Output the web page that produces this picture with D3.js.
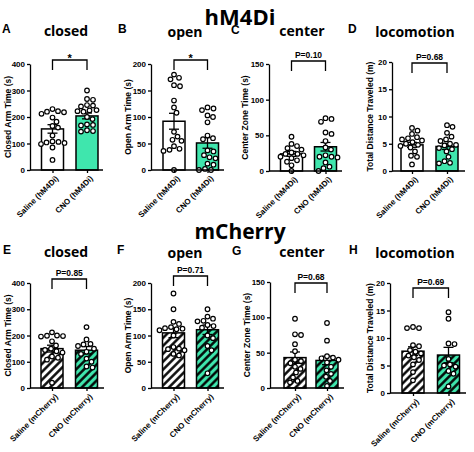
<!DOCTYPE html>
<html lang="en">
<head>
<meta charset="UTF-8">
<title>hM4Di / mCherry</title>
<script src="https://d3js.org/d3.v7.min.js"></script>
<style>
  body { margin: 0; background: #fff; }
  svg { display: block; font-family: "Liberation Sans", Arial, sans-serif; font-weight: bold; }
  .title { font-family: "Open Sans", sans-serif; font-weight: 700; }
  .axis path, .axis line { stroke: #000; stroke-width: 1.3; }
  .axis text { font-size: 8px; font-weight: bold; fill: #000; }
</style>
</head>
<body>
<svg width="474" height="452"></svg>
<script>
const groupsHM4Di = ["Saline (hM4Di)", "CNO (hM4Di)"];
const groupsMCherry = ["Saline (mCherry)", "CNO (mCherry)"];
const rowTitles = ["hM4Di", "mCherry"];
const measures = ["closed", "open", "center", "locomotion"];
const yLabels = ["Closed Arm Time (s)", "Open Arm Time (s)", "Center Zone Time (s)", "Total Distance Traveled (m)"];
const yTicks = [[0, 100, 200, 300, 400], [0, 50, 100, 150, 200], [0, 50, 100, 150], [0, 5, 10, 15, 20]];
const panelLetters = ["A", "B", "C", "D", "E", "F", "G", "H"];
const statsHM4Di = ["*", "*", "P=0.10", "P=0.68"];
const statsMCherry = ["P=0.85", "P=0.71", "P=0.68", "P=0.69"];

// individual animals, hM4Di
const closedSalineHM4Di = [230, 222, 220, 218, 212, 198, 182, 166, 160, 130, 108, 106, 104, 102, 98, 85, 38];
const closedCnoHM4Di = [300, 268, 265, 245, 243, 240, 226, 225, 222, 220, 200, 192, 172, 170, 168, 150, 147, 145];
const openSalineHM4Di = [180, 174, 171, 160, 158, 131, 118, 108, 72, 63, 57, 55, 45, 40, 38, 36, 0];
const openCnoHM4Di = [118, 116, 113, 103, 100, 90, 65, 60, 58, 37, 35, 28, 24, 22, 12, 10, 2, 0, 0];
const centerSalineHM4Di = [48, 38, 35, 32, 30, 26, 24, 24, 22, 20, 18, 15, 13, 8, 0];
const centerCnoHM4Di = [74, 73, 69, 54, 52, 42, 33, 30, 22, 20, 20, 19, 12, 6, 4, 0];
const locoSalineHM4Di = [7.9, 7.4, 6.8, 6.2, 6.0, 5.8, 5.6, 5.3, 5.0, 4.8, 4.6, 4.3, 3.6, 2.8, 2.6, 1.2];
const locoCnoHM4Di = [8.4, 8.1, 7.0, 6.3, 5.8, 5.5, 5.0, 4.8, 4.7, 4.2, 4.0, 3.6, 2.6, 1.8, 1.5, 1.4];

// individual animals, mCherry
const closedSalineMCherry = [212, 200, 199, 198, 196, 178, 162, 150, 145, 140, 135, 120, 115, 108, 20];
const closedCnoMCherry = [232, 185, 168, 166, 160, 150, 138, 130, 112, 100, 82, 78];
const openSalineMCherry = [180, 150, 126, 122, 116, 114, 113, 112, 110, 100, 78, 75, 74, 72, 65, 62];
const openCnoMCherry = [150, 136, 132, 128, 127, 120, 118, 115, 100, 95, 80, 72, 28];
const centerSalineMCherry = [98, 76, 75, 62, 52, 40, 38, 35, 30, 27, 22, 15, 10, 8];
const centerCnoMCherry = [92, 67, 45, 43, 42, 40, 36, 30, 25, 20, 16, 10, 3];
const locoSalineMCherry = [12.0, 11.8, 11.8, 8.7, 8.5, 7.8, 7.5, 7.2, 6.8, 6.5, 6.0, 5.2, 3.8, 2.3];
const locoCnoMCherry = [14.7, 13.5, 9.0, 8.9, 6.2, 5.2, 5.0, 4.8, 4.0, 3.5, 1.2];

// bar heights (mean) and SEM
const meansHM4Di = [[155, 204], [92, 51], [24, 34], [4.8, 4.5]];
const semsHM4Di = [[16, 11], [15, 10], [3.5, 6], [0.45, 0.55]];
const meansMCherry = [[150, 144], [105, 111], [43, 39], [7.6, 6.9]];
const semsMCherry = [[13, 14], [9, 9], [8, 6], [0.8, 1.4]];

const dotsHM4Di = [
  [closedSalineHM4Di, closedCnoHM4Di], [openSalineHM4Di, openCnoHM4Di],
  [centerSalineHM4Di, centerCnoHM4Di], [locoSalineHM4Di, locoCnoHM4Di]
];
const dotsMCherry = [
  [closedSalineMCherry, closedCnoMCherry], [openSalineMCherry, openCnoMCherry],
  [centerSalineMCherry, centerCnoMCherry], [locoSalineMCherry, locoCnoMCherry]
];

// panel geometry in px
const layout = [
  {axisX: 30,  yTop: 64,  yBot: 170, c: [52.5, 87],    xEnd: 103, titleX: 66,  titleY: 36,  letterX: 2,   letterY: 33,  labelX: 8,   bracket: -4},
  {axisX: 151, yTop: 64,  yBot: 170, c: [174, 207.5],  xEnd: 224, titleX: 185, titleY: 37,  letterX: 118, letterY: 33,  labelX: 128, bracket: -4},
  {axisX: 269, yTop: 64,  yBot: 171, c: [291.5, 325.5], xEnd: 342, titleX: 302, titleY: 36,  letterX: 231, letterY: 34,  labelX: 245, bracket: -3},
  {axisX: 392, yTop: 62,  yBot: 171, c: [412, 447],    xEnd: 465, titleX: 415, titleY: 37,  letterX: 348, letterY: 33,  labelX: 370, bracket: 1},
  {axisX: 30,  yTop: 283, yBot: 388, c: [52, 86.5],    xEnd: 104, titleX: 66,  titleY: 257, letterX: 3,   letterY: 254, labelX: 8,   bracket: -4},
  {axisX: 151, yTop: 283, yBot: 388, c: [173.5, 207.5], xEnd: 224, titleX: 185, titleY: 258, letterX: 117, letterY: 254, labelX: 128, bracket: -7},
  {axisX: 270, yTop: 282, yBot: 388, c: [295, 327],    xEnd: 344, titleX: 302, titleY: 257, letterX: 232, letterY: 255, labelX: 247, bracket: 1},
  {axisX: 390, yTop: 283, yBot: 393, c: [413, 448.5],  xEnd: 466, titleX: 415, titleY: 258, letterX: 349, letterY: 254, labelX: 370, bracket: 5}
];

const green = "#3fe6ad";
const barW = 22;
const dotR = 2.3;

const svg = d3.select("svg");
svg.append("rect").attr("width", 474).attr("height", 452).attr("fill", "#fff");

// hatch patterns for the mCherry row
const defs = svg.append("defs");
[["hatchWhite", "#fff"], ["hatchGreen", green]].forEach(([id, bg]) => {
  const p = defs.append("pattern")
    .attr("id", id)
    .attr("patternUnits", "userSpaceOnUse")
    .attr("width", 5.6).attr("height", 5.6)
    .attr("patternTransform", "rotate(45)");
  p.append("rect").attr("width", 5.6).attr("height", 5.6).attr("fill", bg);
  p.append("line").attr("x1", 1.4).attr("x2", 1.4).attr("y1", 0).attr("y2", 5.6)
    .attr("stroke", "#000").attr("stroke-width", 2.4);
});

svg.append("text").attr("class", "title")
  .attr("x", 240).attr("y", 24.5).attr("text-anchor", "middle")
  .attr("font-size", 22).text(rowTitles[0]);
svg.append("text").attr("class", "title")
  .attr("x", 240).attr("y", 239).attr("text-anchor", "middle")
  .attr("font-size", 21).text(rowTitles[1]);

// simple swarm so points at similar heights spread sideways
function swarm(values, y) {
  const placed = [];
  const minD = 2 * dotR + 1.1;
  values.slice().sort((a, b) => b - a).forEach(v => {
    const py = y(v);
    let best = 0;
    for (let k = 0; k < 80; k++) {
      const dx = (k % 2 ? 1 : -1) * Math.ceil(k / 2) * 0.5;
      const ok = placed.every(p => (p.dx - dx) ** 2 + (p.y - py) ** 2 >= minD * minD);
      if (ok) { best = dx; break; }
    }
    placed.push({v: v, y: py, dx: best});
  });
  return placed;
}

function drawPanel(i) {
  const l = layout[i];
  const row = i < 4 ? 0 : 1;
  const m = i % 4;
  const groups = row === 0 ? groupsHM4Di : groupsMCherry;
  const means = (row === 0 ? meansHM4Di : meansMCherry)[m];
  const sems = (row === 0 ? semsHM4Di : semsMCherry)[m];
  const dots = (row === 0 ? dotsHM4Di : dotsMCherry)[m];
  const stat = (row === 0 ? statsHM4Di : statsMCherry)[m];
  const ticks = yTicks[m];

  const y = d3.scaleLinear().domain([0, d3.max(ticks)]).range([l.yBot, l.yTop]);
  const x = d3.scalePoint().domain(groups).range(l.c);

  const g = svg.append("g");

  g.append("text").attr("x", l.letterX).attr("y", l.letterY)
    .attr("font-size", 12).text(panelLetters[i]);
  g.append("text").attr("class", "title")
    .attr("x", l.titleX).attr("y", l.titleY).attr("text-anchor", "middle")
    .attr("font-size", 14).text(measures[m]);

  g.append("text")
    .attr("transform", `translate(${l.labelX},${(l.yTop + l.yBot) / 2}) rotate(-90)`)
    .attr("text-anchor", "middle").attr("dy", "0.35em")
    .attr("font-size", 8.5).text(yLabels[m]);

  // bars
  const fills = row === 0 ? ["#fff", green] : ["url(#hatchWhite)", "url(#hatchGreen)"];
  g.selectAll(".bar").data(groups).join("rect")
    .attr("x", d => x(d) - barW / 2)
    .attr("width", barW)
    .attr("y", (d, j) => y(means[j]))
    .attr("height", (d, j) => y(0) - y(means[j]))
    .attr("fill", (d, j) => fills[j])
    .attr("stroke", "#000").attr("stroke-width", 1.5);

  // SEM
  groups.forEach((d, j) => {
    const cx = x(d);
    const lo = y(Math.max(0, means[j] - sems[j])), hi = y(means[j] + sems[j]);
    g.append("line").attr("x1", cx).attr("x2", cx).attr("y1", lo).attr("y2", hi)
      .attr("stroke", "#000").attr("stroke-width", 1.3);
    [lo, hi].forEach(yy => g.append("line")
      .attr("x1", cx - 5).attr("x2", cx + 5).attr("y1", yy).attr("y2", yy)
      .attr("stroke", "#000").attr("stroke-width", 1.3));
  });

  // animals
  groups.forEach((d, j) => {
    g.selectAll(null).data(swarm(dots[j], y)).join("circle")
      .attr("cx", p => x(d) + p.dx)
      .attr("cy", p => p.y)
      .attr("r", dotR)
      .attr("fill", "#fff").attr("stroke", "#000").attr("stroke-width", 1.2);
  });

  // axes
  g.append("g").attr("class", "axis")
    .attr("transform", `translate(${l.axisX},0)`)
    .call(d3.axisLeft(y).tickValues(ticks).tickSize(3).tickSizeOuter(0).tickPadding(2));

  g.append("line").attr("x1", l.axisX).attr("x2", l.xEnd)
    .attr("y1", l.yBot).attr("y2", l.yBot)
    .attr("stroke", "#000").attr("stroke-width", 1.3);
  const xa = g.append("g").attr("class", "axis")
    .attr("transform", `translate(0,${l.yBot})`)
    .call(d3.axisBottom(x).tickSize(3).tickSizeOuter(0));
  xa.select(".domain").remove();
  xa.selectAll("text")
    .attr("x", 0).attr("y", 0).attr("dy", "0.35em")
    .attr("text-anchor", "end")
    .attr("font-size", 8.5)
    .attr("transform", "translate(4,7) rotate(-45)");

  // comparison bracket
  const by = l.yTop + l.bracket;
  g.append("path")
    .attr("d", `M${l.c[0]},${by + 10}V${by}H${l.c[1]}V${by + 10}`)
    .attr("fill", "none").attr("stroke", "#000").attr("stroke-width", 1.3);
  const star = stat === "*";
  g.append("text")
    .attr("x", (l.c[0] + l.c[1]) / 2)
    .attr("y", star ? by + 2 : by - 3)
    .attr("text-anchor", "middle")
    .attr("font-size", star ? 11 : 8.5)
    .text(stat);
}

d3.range(8).forEach(drawPanel);
</script>
</body>
</html>
